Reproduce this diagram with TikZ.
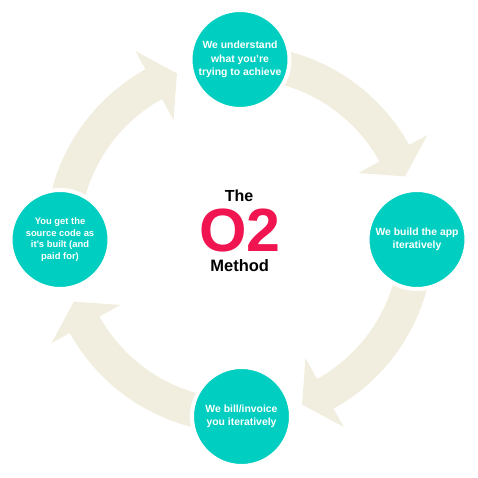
\documentclass[tikz,border=0pt]{standalone}
\usepackage{fontspec}
\setmainfont{Liberation Sans}
\definecolor{teal1}{RGB}{0,206,193}
\definecolor{beige1}{RGB}{242,238,223}
\definecolor{red1}{RGB}{240,20,80}
\tikzset{
  stage/.style={circle, fill=teal1, draw=white, line width=4pt, minimum size=99pt, inner sep=0pt,
    text=white, align=center, font=\fontsize{10.4}{13.2}\selectfont\bfseries},
  stagesmall/.style={stage, font=\fontsize{9.4}{11.7}\selectfont\bfseries},
  cyclearrow/.style={fill=beige1},
  titletext/.style={anchor=base, inner sep=0pt, font=\fontsize{16}{18}\selectfont\bfseries}
}
\begin{document}
\begin{tikzpicture}[x=1pt,y=1pt]
\useasboundingbox (0,0) rectangle (478,478);
% curved arrows
\foreach \k in {0,1,2,3}{
  \begin{scope}[shift={(239.5pt,239pt)}, rotate=-90*\k]
    \fill[cyclearrow] (80:194pt) arc[start angle=80, end angle=29, radius=194pt]
      -- (29:215pt) -- (20.7:177pt) -- (29:136pt) -- (29:160pt)
      arc[start angle=29, end angle=80, radius=160pt] -- cycle;
  \end{scope}
}
% stages
\node[stage] (top) at (240,418.5) {We understand\\what you’re\\trying to achieve};
\node[stage] (right) at (417,238.5) {We build the app\\iteratively};
\node[stage] (bottom) at (241.5,61.5) {We bill/invoice\\you iteratively};
\node[stagesmall] (left) at (60,238.5) {You get the\\source code as\\it’s built (and\\paid for)};
% centre title
\node[titletext, text height=12pt, text depth=0pt] (the) at (239,276.3) {The};
\node[titletext, text=red1, text height=44pt, text depth=0pt, font=\fontsize{61}{64}\selectfont\bfseries] (o2) at (240,226.5) {O2};
\node[titletext, text height=12pt, text depth=0pt, font=\fontsize{16.5}{18}\selectfont\bfseries] (method) at (239.7,206.3) {Method};
\end{tikzpicture}
\end{document}
